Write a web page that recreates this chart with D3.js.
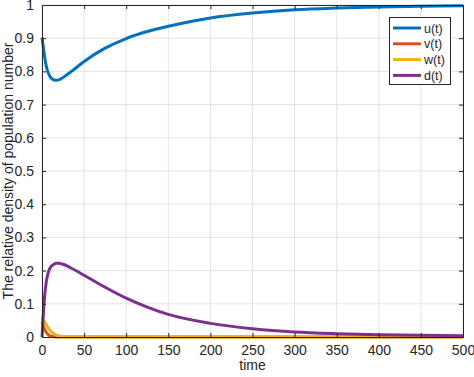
<!DOCTYPE html>
<html>
<head>
<meta charset="utf-8">
<script src="https://cdn.jsdelivr.net/npm/d3@7"></script>
<style>
  html, body { margin: 0; padding: 0; background: #fff; }
  svg { display: block; font-family: "Liberation Sans", Arial, Helvetica, sans-serif; }
</style>
</head>
<body>
<svg id="chart" width="474" height="377"></svg>
<script>
// ---- data ----
const seriesNames = ["u(t)", "v(t)", "w(t)", "d(t)"];
const seriesColors = ["#0072BD", "#D95319", "#EDB120", "#7E2F8E"];

const uT = [0, 2, 4, 6, 9, 12, 17, 22, 28, 35, 50, 75, 100, 125, 150, 200, 250, 300, 350, 400, 450, 500];
const uV = [0.902, 0.865, 0.830, 0.806, 0.787, 0.777, 0.773, 0.777, 0.787, 0.800, 0.830, 0.870, 0.899, 0.920, 0.936, 0.961, 0.976, 0.986, 0.991, 0.994, 0.996, 0.998];

const vT = [0, 2, 4, 6, 8, 10, 14, 20, 30, 500];
const vV = [0.045, 0.030, 0.019, 0.011, 0.006, 0.003, 0.001, 0.0, 0.0, 0.0];

const wT = [0, 3, 6, 9, 12, 16, 20, 25, 32, 40, 500];
const wV = [0.060, 0.046, 0.033, 0.022, 0.014, 0.007, 0.003, 0.001, 0.0, 0.0, 0.0];

const dT = [0, 1, 2, 3, 5, 7, 9, 11, 14, 17, 20, 25, 35, 50, 75, 100, 125, 150, 200, 250, 300, 350, 400, 450, 500];
const dV = [0.0, 0.045, 0.085, 0.120, 0.165, 0.190, 0.205, 0.213, 0.219, 0.222, 0.222, 0.219, 0.207, 0.186, 0.150, 0.117, 0.090, 0.068, 0.041, 0.025, 0.015, 0.010, 0.007, 0.005, 0.004];

const xTicks = [0, 50, 100, 150, 200, 250, 300, 350, 400, 450, 500];
const yTicks = [0, 0.1, 0.2, 0.3, 0.4, 0.5, 0.6, 0.7, 0.8, 0.9, 1];
const xLabel = "time";
const yLabel = "The relative density of population number";

// ---- layout ----
const svg = d3.select("#chart");
const L = 42, R = 463, T = 5, B = 337;
const x = d3.scaleLinear().domain([0, 500]).range([L, R]);
const y = d3.scaleLinear().domain([0, 1]).range([B, T]);

const axisColor = "#262626";

// grid
const grid = svg.append("g");
grid.selectAll("line.gx").data(xTicks).enter().append("line")
  .attr("x1", d => x(d)).attr("x2", d => x(d)).attr("y1", T).attr("y2", B)
  .attr("stroke", "#e3e3e3").attr("stroke-width", 1);
grid.selectAll("line.gy").data(yTicks).enter().append("line")
  .attr("x1", L).attr("x2", R).attr("y1", d => y(d)).attr("y2", d => y(d))
  .attr("stroke", "#e3e3e3").attr("stroke-width", 1);

// lines
const seriesData = [
  uT.map((t, i) => [t, uV[i]]),
  vT.map((t, i) => [t, vV[i]]),
  wT.map((t, i) => [t, wV[i]]),
  dT.map((t, i) => [t, dV[i]])
];
const line = d3.line().x(d => x(d[0])).y(d => y(d[1])).curve(d3.curveMonotoneX);
const plot = svg.append("g");
seriesData.forEach((s, i) => {
  plot.append("path").datum(s).attr("d", line)
    .attr("fill", "none").attr("stroke", seriesColors[i])
    .attr("stroke-width", 3).attr("stroke-linejoin", "round").attr("stroke-linecap", "butt");
});

// axes (ticks inward, box on)
const fontSize = 14;
const xAxisB = d3.axisBottom(x).tickValues(xTicks).tickSize(-4).tickPadding(8).tickFormat(d3.format("d"));
const xAxisT = d3.axisTop(x).tickValues(xTicks).tickSize(-4).tickFormat("");
const yAxisL = d3.axisLeft(y).tickValues(yTicks).tickSize(-4).tickPadding(8).tickFormat(d => d === 0 || d === 1 ? d3.format("d")(d) : d3.format(".1f")(d));
const yAxisR = d3.axisRight(y).tickValues(yTicks).tickSize(-4).tickFormat("");

function style(g) {
  g.selectAll("path.domain").attr("stroke", axisColor).attr("stroke-width", 1);
  g.selectAll(".tick line").attr("stroke", axisColor);
  g.selectAll(".tick text").attr("fill", axisColor).attr("font-size", fontSize)
    .attr("font-family", "Liberation Sans, Arial, sans-serif");
}
svg.append("g").attr("transform", `translate(0,${B})`).call(xAxisB).call(style);
svg.append("g").attr("transform", `translate(0,${T})`).call(xAxisT).call(style);
svg.append("g").attr("transform", `translate(${L},0)`).call(yAxisL).call(style);
svg.append("g").attr("transform", `translate(${R},0)`).call(yAxisR).call(style);

// axis labels
svg.append("text").attr("x", (L + R) / 2).attr("y", 370).attr("text-anchor", "middle")
  .attr("font-size", 14).attr("fill", axisColor).text(xLabel);
svg.append("text").attr("transform", `translate(13,${(T + B) / 2}) rotate(-90)`)
  .attr("text-anchor", "middle").attr("font-size", 14).attr("fill", axisColor).text(yLabel);

// legend
const lg = svg.append("g");
lg.append("rect").attr("x", 389.5).attr("y", 17.5).attr("width", 61).attr("height", 67)
  .attr("fill", "#fff").attr("stroke", axisColor).attr("stroke-width", 1);
seriesNames.forEach((n, i) => {
  const yy = 28 + i * 15.8;
  lg.append("line").attr("x1", 393).attr("x2", 421).attr("y1", yy).attr("y2", yy)
    .attr("stroke", seriesColors[i]).attr("stroke-width", 3);
  lg.append("text").attr("x", 424).attr("y", yy + 4.5).attr("font-size", 12.5)
    .attr("fill", axisColor).text(n);
});
</script>
</body>
</html>
